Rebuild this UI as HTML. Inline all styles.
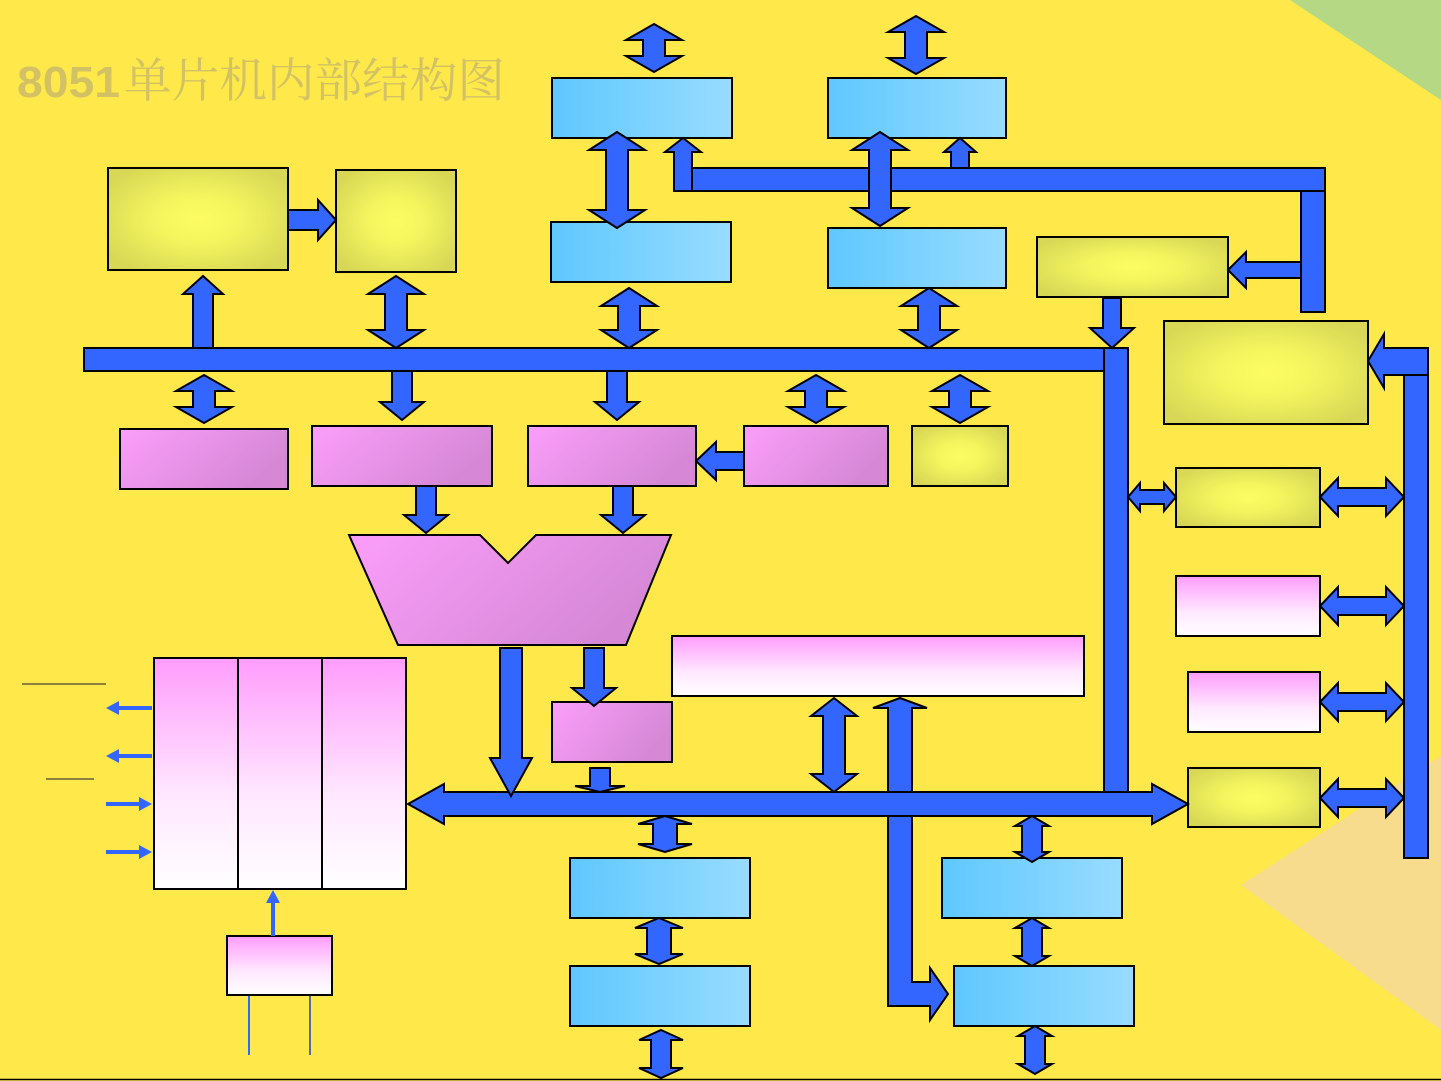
<!DOCTYPE html>
<html><head><meta charset="utf-8"><style>
html,body{margin:0;padding:0;background:#FFE84A;}
svg{display:block;}
</style></head><body>
<svg width="1441" height="1081" viewBox="0 0 1441 1081" xmlns="http://www.w3.org/2000/svg">
<defs>
<linearGradient id="cy" x1="0" y1="0" x2="1" y2="0"><stop offset="0" stop-color="#5ec8ff"/><stop offset="1" stop-color="#98dcff"/></linearGradient>
<radialGradient id="ol" cx="0.5" cy="0.5" r="0.6"><stop offset="0" stop-color="#fcfc62"/><stop offset="0.4" stop-color="#f4f45e"/><stop offset="1" stop-color="#d8d856"/></radialGradient>
<linearGradient id="pk" x1="0" y1="0" x2="1" y2="0.4"><stop offset="0" stop-color="#fb9efb"/><stop offset="1" stop-color="#d688d6"/></linearGradient>
<linearGradient id="pv" x1="0" y1="0" x2="0" y2="1"><stop offset="0" stop-color="#ff9cfc"/><stop offset="0.6" stop-color="#ffe8ff"/><stop offset="1" stop-color="#ffffff"/></linearGradient>
</defs>
<rect width="1441" height="1081" fill="#FFE84A"/>
<polygon points="1290,0 1441,0 1441,100" fill="#b4d884"/>
<polygon points="1241,885 1441,756 1441,1030" fill="#f6dc8c"/>
<line x1="0" y1="1079.5" x2="1441" y2="1079.5" stroke="#000" stroke-width="1.5"/>
<text x="17" y="97" fill="#d2c264"><tspan font-family="Liberation Sans, sans-serif" font-size="44" font-weight="bold" textLength="103" lengthAdjust="spacingAndGlyphs">8051</tspan><tspan x="124" font-family="'Noto Serif CJK SC', 'Noto Sans CJK SC', serif" font-size="47" textLength="381" lengthAdjust="spacingAndGlyphs">单片机内部结构图</tspan></text>

<g stroke="#000" stroke-width="2">
<rect x="552" y="78" width="180" height="60" fill="url(#cy)"/>
<rect x="828" y="78" width="178" height="60" fill="url(#cy)"/>
<rect x="551" y="222" width="180" height="60" fill="url(#cy)"/>
<rect x="828" y="228" width="178" height="60" fill="url(#cy)"/>
<rect x="570" y="858" width="180" height="60" fill="url(#cy)"/>
<rect x="570" y="966" width="180" height="60" fill="url(#cy)"/>
<rect x="942" y="858" width="180" height="60" fill="url(#cy)"/>
<rect x="954" y="966" width="180" height="60" fill="url(#cy)"/>
<rect x="108" y="168" width="180" height="102" fill="url(#ol)"/>
<rect x="336" y="170" width="120" height="102" fill="url(#ol)"/>
<rect x="1037" y="237" width="191" height="60" fill="url(#ol)"/>
<rect x="1164" y="321" width="204" height="103" fill="url(#ol)"/>
<rect x="912" y="426" width="96" height="60" fill="url(#ol)"/>
<rect x="1176" y="468" width="144" height="59" fill="url(#ol)"/>
<rect x="1188" y="768" width="132" height="59" fill="url(#ol)"/>
<rect x="120" y="429" width="168" height="60" fill="url(#pk)"/>
<rect x="312" y="426" width="180" height="60" fill="url(#pk)"/>
<rect x="528" y="426" width="168" height="60" fill="url(#pk)"/>
<rect x="744" y="426" width="144" height="60" fill="url(#pk)"/>
<rect x="552" y="702" width="120" height="60" fill="url(#pk)"/>
<polygon points="349,535 480,535 508,563 536,535 671,535 626,645 398,645" fill="url(#pk)"/>
<rect x="672" y="636" width="412" height="60" fill="url(#pv)"/>
<rect x="1176" y="576" width="144" height="60" fill="url(#pv)"/>
<rect x="1188" y="672" width="132" height="60" fill="url(#pv)"/>
<rect x="154" y="658" width="252" height="231" fill="url(#pv)"/>
<line x1="238" y1="658" x2="238" y2="889"/><line x1="322" y1="658" x2="322" y2="889"/>
<rect x="227" y="936" width="105" height="59" fill="url(#pv)"/>
</g>

<g fill="#3366ff" stroke="#000" stroke-width="2">
<rect x="84" y="348" width="1020" height="23"/>
<rect x="1104" y="348" width="24" height="444"/>
<rect x="1404" y="348" width="24" height="510"/>
<polygon points="1428,348 1428,375 1384,375 1384,388 1368,361 1384,334 1384,348"/>
<polygon points="674,191 674,152 665,152 683,138 701,152 692,152 692,191"/>
<rect x="692" y="168" width="633" height="23"/>
<rect x="1301" y="191" width="24" height="121"/>
<polygon points="951,168 951,152 944,152 960,138 976,152 969,152 969,168"/>
<polygon points="1301,262 1246,262 1246,252 1228,270 1246,288 1246,278 1301,278"/>
<polygon points="444,792 1152,792 1152,784 1188,804 1152,824 1152,816 444,816 444,824 408,804 444,784"/>
<polygon points="888,816 888,1006 930,1006 930,1020 948,994 930,968 930,982 912,982 912,816"/>
<polygon points="888,792 888,708 873,708 900,698 927,708 912,708 912,792"/>
<polygon points="288,210 318,210 318,200 336,220 318,240 318,230 288,230"/>
<polygon points="193,348 193,294 183,294 203,276 223,294 213,294 213,348"/>
<polygon points="396,276 424,294 407,294 407,330 424,330 396,348 368,330 385,330 385,294 368,294"/>
<polygon points="617,132 645,150 628,150 628,210 645,210 617,228 589,210 606,210 606,150 589,150"/>
<polygon points="654,24 682,40 665,40 665,56 682,56 654,72 626,56 643,56 643,40 626,40"/>
<polygon points="916,16 944,32 927,32 927,58 944,58 916,74 888,58 905,58 905,32 888,32"/>
<polygon points="880,132 908,150 891,150 891,208 908,208 880,226 852,208 869,208 869,150 852,150"/>
<polygon points="629,288 657,306 640,306 640,330 657,330 629,348 601,330 618,330 618,306 601,306"/>
<polygon points="929,288 957,306 940,306 940,330 957,330 929,348 901,330 918,330 918,306 901,306"/>
<polygon points="1103,298 1121,298 1121,328 1134,328 1112,348 1090,328 1103,328"/>
<polygon points="204,375 232,391 215,391 215,407 232,407 204,423 176,407 193,407 193,391 176,391"/>
<polygon points="392,371 412,371 412,402 424,402 402,420 380,402 392,402"/>
<polygon points="607,371 627,371 627,402 639,402 617,420 595,402 607,402"/>
<polygon points="816,375 844,391 827,391 827,407 844,407 816,423 788,407 805,407 805,391 788,391"/>
<polygon points="960,375 988,391 971,391 971,407 988,407 960,423 932,407 949,407 949,391 932,391"/>
<polygon points="744,452 716,452 716,442 696,461 716,480 716,470 744,470"/>
<polygon points="416,486 436,486 436,515 448,515 426,533 404,515 416,515"/>
<polygon points="613,486 633,486 633,515 645,515 623,533 601,515 613,515"/>
<polygon points="500,648 522,648 522,758 532,758 511,796 490,758 500,758"/>
<polygon points="584,648 604,648 604,688 616,688 594,706 572,688 584,688"/>
<polygon points="590,768 610,768 610,786 625,786 600,792 575,786 590,786"/>
<polygon points="834,698 857,716 845,716 845,774 857,774 834,792 811,774 823,774 823,716 811,716"/>
<polygon points="1128,497 1140,483 1140,490 1164,490 1164,483 1176,497 1164,511 1164,504 1140,504 1140,511"/>
<polygon points="1320,497 1338,478 1338,488 1386,488 1386,478 1404,497 1386,516 1386,506 1338,506 1338,516"/>
<polygon points="1320,606 1338,587 1338,597 1386,597 1386,587 1404,606 1386,625 1386,615 1338,615 1338,625"/>
<polygon points="1320,702 1338,683 1338,693 1386,693 1386,683 1404,702 1386,721 1386,711 1338,711 1338,721"/>
<polygon points="1320,798 1338,779 1338,789 1386,789 1386,779 1404,798 1386,817 1386,807 1338,807 1338,817"/>
<polygon points="665,816 692,824 677,824 677,844 692,844 665,852 638,844 653,844 653,824 638,824"/>
<polygon points="659,918 683,928 671,928 671,954 683,954 659,964 635,954 647,954 647,928 635,928"/>
<polygon points="661,1030 683,1040 671,1040 671,1068 683,1068 661,1078 639,1068 651,1068 651,1040 639,1040"/>
<polygon points="1032,816 1049,826 1042,826 1042,852 1049,852 1032,862 1015,852 1022,852 1022,826 1015,826"/>
<polygon points="1032,918 1049,928 1042,928 1042,956 1049,956 1032,966 1015,956 1022,956 1022,928 1015,928"/>
<polygon points="1035,1026 1052,1036 1045,1036 1045,1064 1052,1064 1035,1074 1018,1064 1025,1064 1025,1036 1018,1036"/>
</g>
<g stroke="#3366ff" stroke-width="4" fill="#3366ff">
<line x1="152" y1="708" x2="118" y2="708"/><polygon points="106,708 119,701 119,715" stroke="none"/>
<line x1="152" y1="756" x2="118" y2="756"/><polygon points="106,756 119,749 119,763" stroke="none"/>
<line x1="106" y1="804" x2="140" y2="804"/><polygon points="152,804 139,797 139,811" stroke="none"/>
<line x1="106" y1="852" x2="140" y2="852"/><polygon points="152,852 139,845 139,859" stroke="none"/>
<line x1="273" y1="936" x2="273" y2="902"/><polygon points="273,890 266,903 280,903" stroke="none"/>
</g>
<line x1="249" y1="996" x2="249" y2="1055" stroke="#3366ff" stroke-width="2"/>
<line x1="310" y1="996" x2="310" y2="1055" stroke="#4a70b0" stroke-width="2"/>
<line x1="22" y1="684" x2="106" y2="684" stroke="#8e7e40" stroke-width="2"/>
<line x1="46" y1="779" x2="94" y2="779" stroke="#8e7e40" stroke-width="2"/>
</svg>
</body></html>
